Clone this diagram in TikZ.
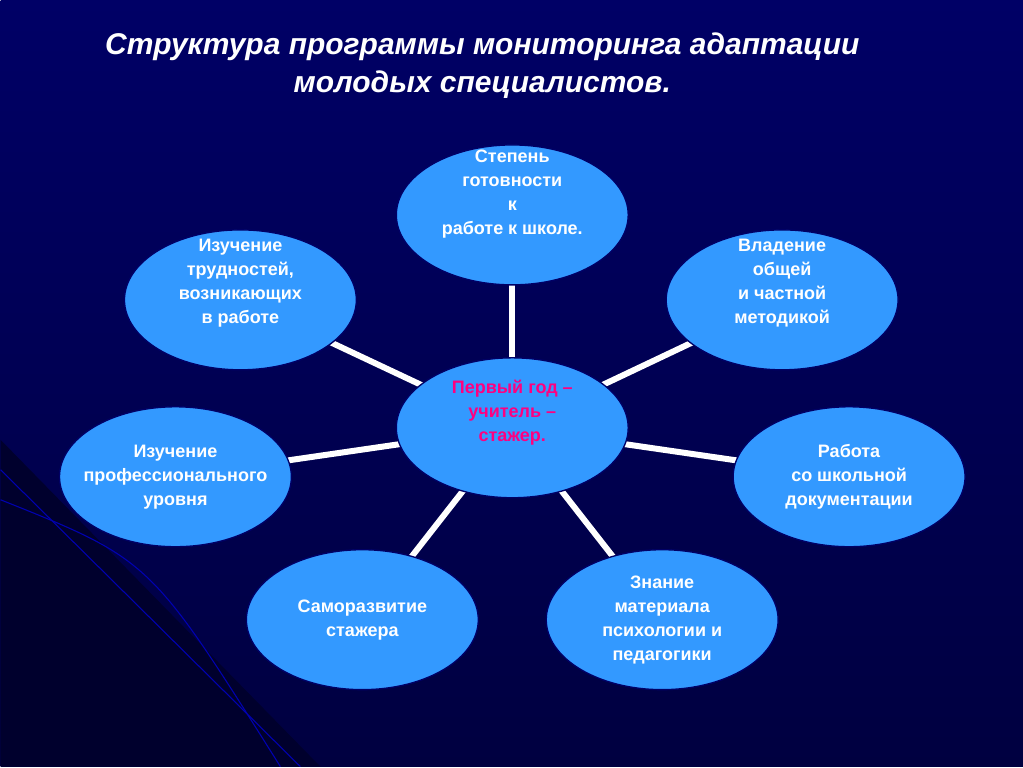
\documentclass[tikz,border=0pt]{standalone}
\usepackage{fontspec}
\setmainfont{Liberation Sans}
\usetikzlibrary{shapes.geometric}
\pgfdeclarelayer{bg}\pgfdeclarelayer{edges}
\pgfsetlayers{bg,edges,main}
\definecolor{navy}{HTML}{000066}
\definecolor{navyd}{HTML}{000040}
\definecolor{bub}{HTML}{3399FF}
\definecolor{mag}{HTML}{FF0080}
\tikzset{
 bubble/.style={ellipse,draw=navy,line width=1pt,fill=bub,minimum width=232\px,minimum height=140\px,inner sep=-30pt,align=center,text=white,font=\bfseries\fontsize{13.5}{18}\selectfont},
 link/.style={draw=white,line width=4.5pt},
}
\newlength\px \setlength\px{0.75pt}
\begin{document}
\begin{tikzpicture}[x=0.75pt,y=-0.75pt]
\begin{pgfonlayer}{bg}
\shade[top color=navy,bottom color=navyd] (0,0) rectangle (1023,767);
\fill[navyd!70!black] (0,440) -- (320,767) -- (0,767) -- cycle;
\draw[blue!50!navy,line width=0.8pt] (0,470) -- (300,767);
\draw[blue!50!navy,line width=0.8pt] (0,500) .. controls (150,560) .. (280,767);
\end{pgfonlayer}
\useasboundingbox (0,0) rectangle (1023,767);
\node[text=white,font=\bfseries\itshape\fontsize{22.5}{28.5}\selectfont,align=center] (t) at (482,66) {Структура программы мониторинга адаптации\\молодых специалистов.};
\node[bubble] (c) at (512,428) {\textcolor{mag}{Первый год –}\\\textcolor{mag}{учитель –}\\\textcolor{mag}{стажер.}\\[8pt]};
\node[bubble] (n1) at (512,215) {Степень\\готовности\\к\\работе к школе.\\[16pt]};
\node[bubble] (n2) at (240,300) {Изучение\\трудностей,\\возникающих\\в работе\\[10pt]};
\node[bubble] (n3) at (782,300) {Владение\\общей\\и частной\\методикой\\[10pt]};
\node[bubble] (n4) at (175,477) {Изучение\\профессионального\\уровня};
\node[bubble] (n5) at (849,477) {Работа\\со школьной\\документации};
\node[bubble] (n6) at (362,620) {Саморазвитие\\стажера};
\node[bubble] (n7) at (662,620) {Знание\\материала\\психологии и\\педагогики};
\begin{pgfonlayer}{edges}
\foreach \n in {n1,n2,n3,n4,n5,n6,n7} \draw[link] (c.center) -- (\n.center);
\end{pgfonlayer}
\end{tikzpicture}
\end{document}
